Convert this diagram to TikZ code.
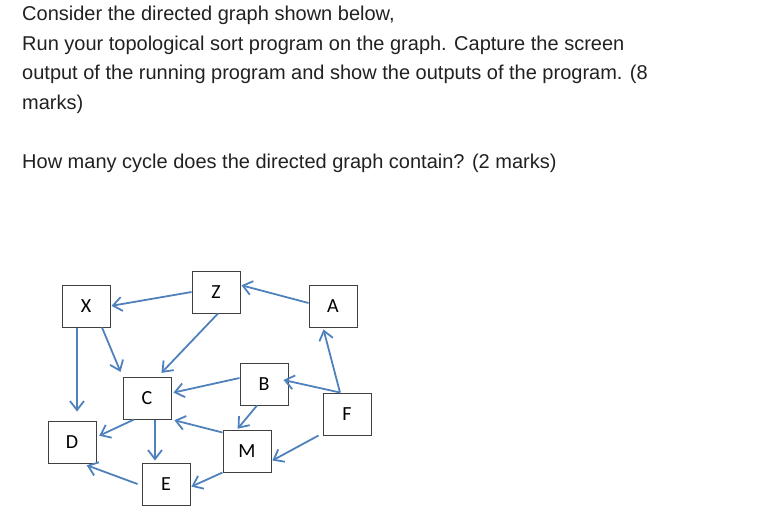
\documentclass[tikz,border=0pt]{standalone}
\usepackage{fontspec}
\setmainfont{Liberation Sans}
\newfontfamily\vertexfont{Carlito}
\usepackage{tikz}
\usetikzlibrary{arrows.meta}
\usetikzlibrary{positioning,calc}
\definecolor{arrowBlue}{RGB}{79,129,189}

\begin{document}
\begin{tikzpicture}[
  node distance=10mm,
  questionText/.style={font=\fontsize{20}{20}\selectfont\color{black!87}, anchor=base west, inner sep=0pt},
  edgeArrow/.style={draw=arrowBlue, line width=1.8pt, -{Straight Barb[length=9pt,width=14pt]}}
]
	\useasboundingbox (0,0) rectangle (775pt,-512pt);

	\node (questionLine1) [questionText] at (22pt,-20.5pt) {Consider the directed graph shown below,};
	\node (questionLine2) [questionText] at (22pt,-50pt) {Run your topological sort program on the graph. Capture the screen};
	\node (questionLine3) [questionText] at (22pt,-79.5pt) {output of the running program and show the outputs of the program. (8};
	\node (questionLine4) [questionText] at (22pt,-109pt) {marks)};
	\node (questionLine5) [questionText] at (22pt,-168.5pt) {How many cycle does the directed graph contain? (2 marks)};

	\tikzstyle{vertexBox} = [rectangle, minimum width=48pt, minimum height=42pt, text centered, draw=black!75, line width=1pt, inner sep=0pt, font=\vertexfont\fontsize{20}{20}\selectfont]

	\node (vertexX) [vertexBox] at (86pt,-306pt) {X};
	\node (vertexZ) [vertexBox, right of=vertexX, node distance=130pt, yshift=14pt] {Z};
	\node (vertexA) [vertexBox, right of=vertexX, node distance=247pt] {A};
	\node (vertexC) [vertexBox, below of=vertexX, node distance=92pt, xshift=61pt] {C};
	\node (vertexB) [vertexBox, right of=vertexC, node distance=117pt, yshift=14pt] {B};
	\node (vertexF) [vertexBox, right of=vertexB, node distance=83pt, yshift=-30pt] {F};
	\node (vertexD) [vertexBox, below of=vertexX, node distance=136pt, xshift=-14pt] {D};
	\node (vertexM) [vertexBox, below of=vertexB, node distance=67pt, xshift=-17pt] {M};
	\node (vertexE) [vertexBox, below of=vertexC, node distance=86pt, xshift=19pt] {E};

	\draw[edgeArrow, shorten >=1pt] (vertexZ.west) -- (vertexX.east);
	\draw[edgeArrow, shorten >=1pt] ([yshift=3pt]vertexA.west) -- ([yshift=7pt]vertexZ.east);
	\draw[edgeArrow, shorten >=9pt] ([xshift=-9pt]vertexX.south) -- ([xshift=5pt]vertexD.north);
	\draw[edgeArrow, shorten >=5pt] ([xshift=16pt]vertexX.south) -- (vertexC.north west);
	\draw[edgeArrow, shorten >=5pt] ([xshift=2pt]vertexZ.south) -- ([xshift=11pt]vertexC.north);
	\draw[edgeArrow, shorten >=2pt] ([yshift=6pt]vertexB.west) -- ([yshift=5pt]vertexC.east);
	\draw[edgeArrow] ([xshift=-7pt]vertexF.north) -- ([xshift=-5pt, yshift=4pt]vertexB.east);
	\draw[edgeArrow, shorten >=2pt] ([xshift=-7pt]vertexF.north) -- ([xshift=-10pt]vertexA.south);
	\draw[edgeArrow, shorten >=1pt] ([xshift=-7pt]vertexB.south) -- ([xshift=-10pt]vertexM.north);
	\draw[edgeArrow, shorten >=3pt] ([yshift=-3pt]vertexM.north west) -- (vertexC.south east);
	\draw[edgeArrow, shorten >=3pt] ([xshift=-13pt]vertexC.south) -- ([yshift=5pt]vertexD.east);
	\draw[edgeArrow, shorten >=2pt] ([xshift=8pt]vertexC.south) -- ([xshift=-11pt]vertexE.north);
	\draw[edgeArrow, shorten >=1pt] ([xshift=-4pt]vertexF.south west) -- ([yshift=-10pt]vertexM.east);
	\draw[edgeArrow, shorten >=1pt] (vertexM.south west) -- ([yshift=-3pt]vertexE.east);
	\draw[edgeArrow, shorten >=5pt] ([xshift=-4pt]vertexE.west) -- ([xshift=10pt]vertexD.south);

\end{tikzpicture}
\end{document}
